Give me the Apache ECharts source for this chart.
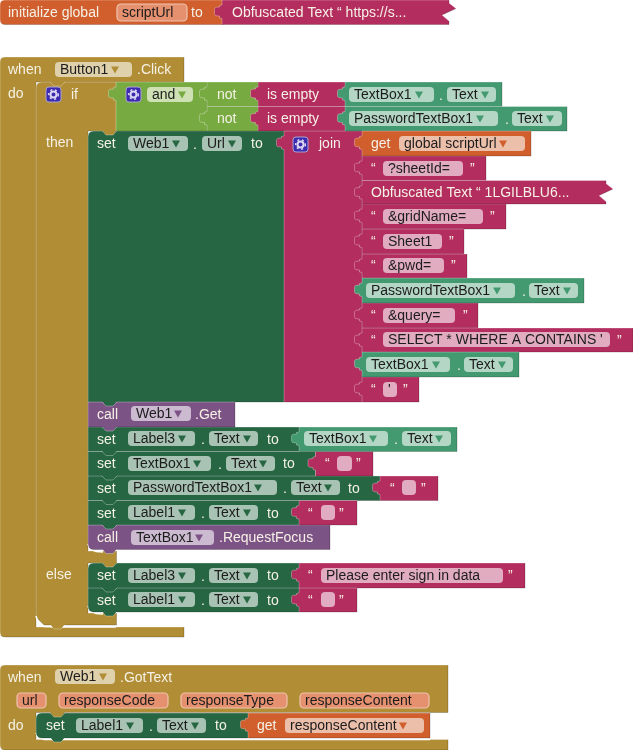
<!DOCTYPE html>
<html><head><meta charset="utf-8">
<style>html,body{margin:0;padding:0;background:#fff}#c{width:633px;height:750px;filter:blur(0.3px)}</style>
<script src="https://cdn.jsdelivr.net/npm/echarts@6/dist/echarts.min.js"></script>
</head><body><div id="c"></div>
<script>
// Block frames: [x0, y0, x1, y1, roundTop, roundBottom]
const controlShapes = [
  [[0,57,5],[184,57],[184,82],[36,82],[36,627],[184,627],[184,637],[0,637,5]],
  [[0,665,5],[448,665],[448,712.5],[36,712.5],[36,739.5],[448,739.5],[448,750],[0,750,5]],
  [[36,82,6],[116.5,82],[116.5,131],[88,131],[88,551],[116.5,551],[116.5,563],[88,563],[88,613],[116.5,613],[116.5,625],[44,625],[36,617]]
];
const initBlocks = [[0,0,223,24.5]];
const setBlocks = [
  [88,131,284,402,1,0],[88,427,299,451.5,0,0],[88,451.5,315.5,476,0,0],[88,476,380,500.5,0,0],[88,500.5,299,525,0,0],
  [88,563,299,588,1,0],[88,588,299,612,0,1],[36,713,248,738,1,1]
];
const callBlocks = [[88,402,235,427,0,0],[88,525,330,549.5,0,1]];
const logicBlocks = [[116,82,207,131],[207,82,258,106.5],[207,106.5,258,131]];
const textBlocks = [
  [258,82,345,106.5],[258,106.5,345,131],[284,131,362,402],
  [362,156,486,180.5],[362,204,506,229],[362,229,464,254],[362,254,467,278],[362,303,478,328],[362,328,633,352],[362,377,419,402],
  [315.5,451.5,373,476],[380,476,438,500.5],[299,500.5,357,525],[299,563,525,588],[299,588,357,612]
];
const obfuscatedBlocks = [[222,0,449,24.5],[362,180.5,606,204]];
const getterBlocks = [[345,82,502,106.5],[345,106.5,567,131],[362,278,584,303],[362,352,519,377],[299,427,457,451.5]];
const getBlocks = [[362,131,531,156],[248,713,430,738]];
const controlNotches = [[36,82],[88,131],[88,563],[36,625],[36,713]];
const whiteGaps = [
  [88,544,90,549,96,551.5,103,552],
  [88,606,90,611,96,613.5,103,614],
  [36,616,38,622,44,626.5,58,627,116,627],
  [36,733,38,737,44,739.5,430,739.5]
];
// Fields: [x0, y0, x1, y1, arrowX, text]
const controlFields = [[55,62,132,77,115,"Button1"],[55,669,115,684,103,"Web1"]];
const logicFields = [[147,87,193,102,182,"and"]];
const setFields = [
  [128,136,188,151,176,"Web1"],[202,136,242,151,232,"Url"],
  [128,431,195,446,182,"Label3"],[209,431,258,446,247,"Text"],
  [128,456,211,471,197,"TextBox1"],[226,456,275,471,263,"Text"],
  [128,480,277,495,258,"PasswordTextBox1"],[291,480,340,495,328,"Text"],
  [128,505,195,520,182,"Label1"],[209,505,258,520,247,"Text"],
  [128,568,195,583,182,"Label3"],[209,568,258,583,247,"Text"],
  [128,592,195,607,182,"Label1"],[209,592,258,607,247,"Text"],
  [76,718,143,733,130,"Label1"],[157,718,206,733,195,"Text"]
];
const getterFields = [
  [349,87,434,102,419,"TextBox1"],[447,87,496,102,485,"Text"],
  [349,111,498,126,480,"PasswordTextBox1"],[512,111,562,126,550,"Text"],
  [366,283,515,298,497,"PasswordTextBox1"],[529,283,578,298,567,"Text"],
  [366,357,450,372,436,"TextBox1"],[464,357,513,372,502,"Text"],
  [304,431,388,446,373,"TextBox1"],[402,431,451,446,439,"Text"]
];
const textFields = [
  [383,161,463,176,null,"?sheetId="],[383,209,483,224,null,"&gridName="],[383,234,442,249,null,"Sheet1"],
  [383,258,444,273,null,"&pwd="],[383,308,455,323,null,"&query="],[383,332,610,347,null,"SELECT * WHERE A CONTAINS '"],
  [383,382,397,397,null,"'"],[337,456,352,471,null,""],[402,480,416,495,null,""],[321,505,335,520,null,""],
  [321,568,503,583,null,"Please enter sign in data"],[321,592,335,607,null,""]
];
const orangeFields = [[399,136,525,151,503,"global scriptUrl"],[285,718,424,733,403,"responseContent"]];
const callFields = [[131,406,191,421,178,"Web1"],[131,530,214,545,199,"TextBox1"]];
const paramFields = [
  [117,4,187,21,null,"scriptUrl"],[17,693,46,708,null,"url"],[59,693,168,708,null,"responseCode"],
  [181,693,287,708,null,"responseType"],[300,693,429,708,null,"responseContent"]
];
const gearIcons = [[46,87],[126,87],[293,137]];
// Labels: [x, yCentre, text]
const blockLabels = [
  [8,13.5,"initialize global"],[191,13.5,"to"],[232,13.5,"Obfuscated Text “ https://s..."],
  [8,70.5,"when"],[137,70.5,".Click"],[8,94,"do"],[71,95,"if"],[217,95,"not"],[267,95,"is empty"],[439,96,"."],
  [217,119.5,"not"],[267,119.5,"is empty"],[505,120,"."],[46,143,"then"],
  [97,144.5,"set"],[193,145,"."],[251,144.5,"to"],[319,144.5,"join"],[371,144.5,"get"],
  [371,169,"“"],[470,169,"”"],[371,193.5,"Obfuscated Text “ 1LGILBLU6..."],
  [371,217.5,"“"],[490,217.5,"”"],[371,242,"“"],[449,242,"”"],[371,266.5,"“"],[451,266.5,"”"],[522,292,"."],
  [371,316,"“"],[463,316,"”"],[371,341,"“"],[617,341,"”"],[457,366,"."],[371,390.5,"“"],[403,390.5,"”"],
  [97,415,"call"],[195,415,".Get"],
  [97,440,"set"],[201,440,"."],[267,440,"to"],[394,440,"."],
  [97,464.5,"set"],[218,465,"."],[283,464.5,"to"],[325,464.5,"“"],[356,464.5,"”"],
  [97,489,"set"],[283,489,"."],[348,489,"to"],[390,489,"“"],[421,489,"”"],
  [97,514,"set"],[201,514,"."],[267,514,"to"],[308,514,"“"],[339,514,"”"],
  [97,538.5,"call"],[219,538.5,".RequestFocus"],
  [46,575.5,"else"],[97,576.5,"set"],[201,577,"."],[267,576.5,"to"],[308,576.5,"“"],[508,576.5,"”"],
  [97,601,"set"],[201,601,"."],[267,601,"to"],[308,601,"“"],[339,601,"”"],
  [8,678,"when"],[120,678,".GotText"],[8,726,"do"],
  [46,726.5,"set"],[149,727,"."],[215,726.5,"to"],[257,726.5,"get"]
];

const FONT='14px "Liberation Sans", Arial, sans-serif';
const LIGHT='rgba(255,255,255,0.3)', DARK='rgba(0,0,0,0.2)';

function rounded(pts){
  const out=[], n=pts.length;
  pts.forEach((p,i)=>{
    const r=p[2];
    if(!r){out.push([p[0],p[1]]);return;}
    const a=pts[(i+n-1)%n], b=pts[(i+1)%n];
    const la=Math.hypot(a[0]-p[0],a[1]-p[1]), lb=Math.hypot(b[0]-p[0],b[1]-p[1]);
    const s=[p[0]+(a[0]-p[0])/la*r,p[1]+(a[1]-p[1])/la*r], e=[p[0]+(b[0]-p[0])/lb*r,p[1]+(b[1]-p[1])/lb*r];
    for(let k=0;k<=5;k++){const t=k/5,u=1-t;out.push([u*u*s[0]+2*u*t*p[0]+t*t*e[0],u*u*s[1]+2*u*t*p[1]+t*t*e[1]]);}
  });
  return out;
}
function tab(x,y){return [[x,y+18.5],[x-2.5,y+18],[x-2.5,y+16],[x-7.5,y+15.5,2],[x-7.5,y+7.5,2],[x-2.5,y+7],[x-2.5,y+5.5],[x,y+5]];}
const valueShape=r=>[[r[0],r[1]],[r[2],r[1]],[r[2],r[3]],[r[0],r[3]],...tab(r[0],r[1])];
const obfShape=r=>[[r[0],r[1]],[r[2],r[1]],[r[2],r[1]+3],[r[2]+7,r[1]+8.5],[r[2]-7,r[1]+15],[r[2],r[1]+21],[r[2],r[3]],[r[0],r[3]],...tab(r[0],r[1])];
const stmtShape=r=>[[r[0],r[1],r[4]?6:0],[r[2],r[1]],[r[2],r[3]],[r[0],r[3],r[5]?6:0]];
const initShape=r=>[[r[0],r[1],5],[r[2],r[1]],[r[2],r[3]],[r[0],r[3],5]];

function outlined(api,pts,fill){
  const x0=api.coord([pts[0][0],pts[0][1]])[0];
  const c=rounded(pts).map(p=>api.coord(p));
  const children=[{type:'polygon',shape:{points:c},style:{fill:fill}}];
  let cur=null,curL=null;
  const n=c.length;
  for(let i=0;i<n;i++){
    const a=c[i],b=c[(i+1)%n],dx=b[0]-a[0],dy=b[1]-a[1];
    const isL=(dy-dx)<0||Math.min(a[0],b[0])<x0-0.01;
    if(cur&&curL===isL){cur.push(b);}
    else{
      if(cur)children.push({type:'polyline',shape:{points:cur},style:{fill:null,stroke:curL?LIGHT:DARK,lineWidth:1}});
      cur=[a,b];curL=isL;
    }
  }
  if(cur)children.push({type:'polyline',shape:{points:cur},style:{fill:null,stroke:curL?LIGHT:DARK,lineWidth:1}});
  return {type:'group',children};
}
const base={type:'custom',coordinateSystem:'cartesian2d',clip:false,silent:true,animation:false,progressive:0,encode:{x:0,y:1}};
function blocks(rows,color,shape,z){
  return Object.assign({},base,{z,data:rows.map(r=>[r[0],r[1]]),
    renderItem:(p,api)=>outlined(api,shape(rows[p.dataIndex]),color)});
}
function shapes(list,color,z){
  return Object.assign({},base,{z,data:list.map(s=>[s[0][0],s[0][1]]),
    renderItem:(p,api)=>outlined(api,list[p.dataIndex],color)});
}
function bumps(rows,color,z){
  return Object.assign({},base,{z,data:rows.map(r=>[r[0],r[3]]),
    renderItem:(p,api)=>{
      const r=rows[p.dataIndex],x=r[0],y=r[3];
      const q=[[x+14,y-1],[x+29,y-1],[x+25,y+4],[x+18,y+4]].map(a=>api.coord(a));
      const l=[[x+14,y],[x+18,y+4],[x+25,y+4],[x+29,y]].map(a=>api.coord(a));
      return {type:'group',children:[
        {type:'polygon',shape:{points:q},style:{fill:color}},
        {type:'polyline',shape:{points:l},style:{fill:null,stroke:LIGHT,lineWidth:1}}]};
    }});
}
function fields(rows,fill,stroke,arrow,z){
  return Object.assign({},base,{z,data:rows.map(r=>[r[0],r[1]]),
    renderItem:(p,api)=>{
      const r=rows[p.dataIndex],a=api.coord([r[0],r[1]]),b=api.coord([r[2],r[3]]);
      const ch=[{type:'rect',shape:{x:a[0],y:a[1],width:b[0]-a[0],height:b[1]-a[1],r:4},style:{fill,stroke,lineWidth:stroke?1.2:0}}];
      if(r[4]!==null){
        const yc=(r[1]+r[3])/2;
        ch.push({type:'polygon',shape:{points:[[r[4]-4,yc-3],[r[4]+4,yc-3],[r[4],yc+4]].map(q=>api.coord(q))},style:{fill:arrow}});
      }
      if(r[5]){
        const t=api.coord([r[0]+5,(r[1]+r[3])/2+0.5]);
        ch.push({type:'text',style:{text:r[5],x:t[0],y:t[1],font:FONT,fill:'#1c1c1c',align:'left',verticalAlign:'middle'}});
      }
      return {type:'group',children:ch};
    }});
}
const series=[
  shapes(controlShapes,'#b18e35',1),
  blocks(initBlocks,'#d05f2d',initShape,1),
  Object.assign({},base,{z:2,data:whiteGaps.map(w=>[w[0],w[1]]),
    renderItem:(p,api)=>{const w=whiteGaps[p.dataIndex],pts=[];for(let i=0;i<w.length;i+=2)pts.push(api.coord([w[i],w[i+1]]));
      return {type:'polyline',shape:{points:pts},style:{fill:null,stroke:'#fff',lineWidth:1.6}};}}),
  blocks(setBlocks,'#266643',stmtShape,3),
  blocks(callBlocks,'#7c5385',stmtShape,3),
  bumps(setBlocks,'#266643',4),
  bumps(callBlocks,'#7c5385',4),
  bumps(controlNotches.map(n=>[n[0],0,0,n[1]]),'#b18e35',5),
  blocks(logicBlocks,'#77ab41',valueShape,6),
  blocks(textBlocks,'#b32d5e',valueShape,7),
  blocks(obfuscatedBlocks,'#b32d5e',obfShape,7),
  blocks(getterBlocks,'#439970',valueShape,8),
  blocks(getBlocks,'#d05f2d',valueShape,8),
  fields(controlFields,'#dfd1ac',null,'#b18e35',9),
  fields(logicFields,'#cfe0b5',null,'#77ab41',9),
  fields(setFields,'#a8c2b3',null,'#266643',9),
  fields(getterFields,'#b4d6c5',null,'#439970',9),
  fields(textFields,'#e1abc0',null,'#b32d5e',9),
  fields(orangeFields,'#ecbfab',null,'#d05f2d',9),
  fields(callFields,'#cbbad0',null,'#7c5385',9),
  fields(paramFields,'#e59170','#f0c3ad','#d05f2d',9),
  Object.assign({},base,{z:9,data:gearIcons,
    renderItem:(p,api)=>{
      const g=api.coord(gearIcons[p.dataIndex]),cx=g[0]+7.5,cy=g[1]+7.5;
      return {type:'group',children:[
        {type:'rect',shape:{x:g[0],y:g[1],width:15,height:15,r:3},style:{fill:'#3c2bb0',stroke:'#a9a3cf',lineWidth:1}},
        {type:'circle',shape:{cx,cy,r:3},style:{fill:null,stroke:'#dcd8f4',lineWidth:2}},
        {type:'circle',shape:{cx,cy,r:4.8},style:{fill:null,stroke:'#dcd8f4',lineWidth:1.5,lineDash:[2,2.7]}}
      ]};
    }}),
  Object.assign({},base,{z:10,data:blockLabels.map(l=>[l[0],l[1]]),
    renderItem:(p,api)=>{
      const l=blockLabels[p.dataIndex],c=api.coord([l[0],l[1]]);
      return {type:'text',style:{text:l[2],x:c[0],y:c[1],font:FONT,fill:'#f6f1e6',align:'left',verticalAlign:'middle'}};
    }})
];
const chart=echarts.init(document.getElementById('c'),null,{renderer:'canvas'});
chart.setOption({
  animation:false,
  grid:{left:0,right:0,top:0,bottom:0},
  xAxis:{type:'value',min:0,max:633,show:false},
  yAxis:{type:'value',min:0,max:750,inverse:true,show:false},
  series
});
</script></body></html>
